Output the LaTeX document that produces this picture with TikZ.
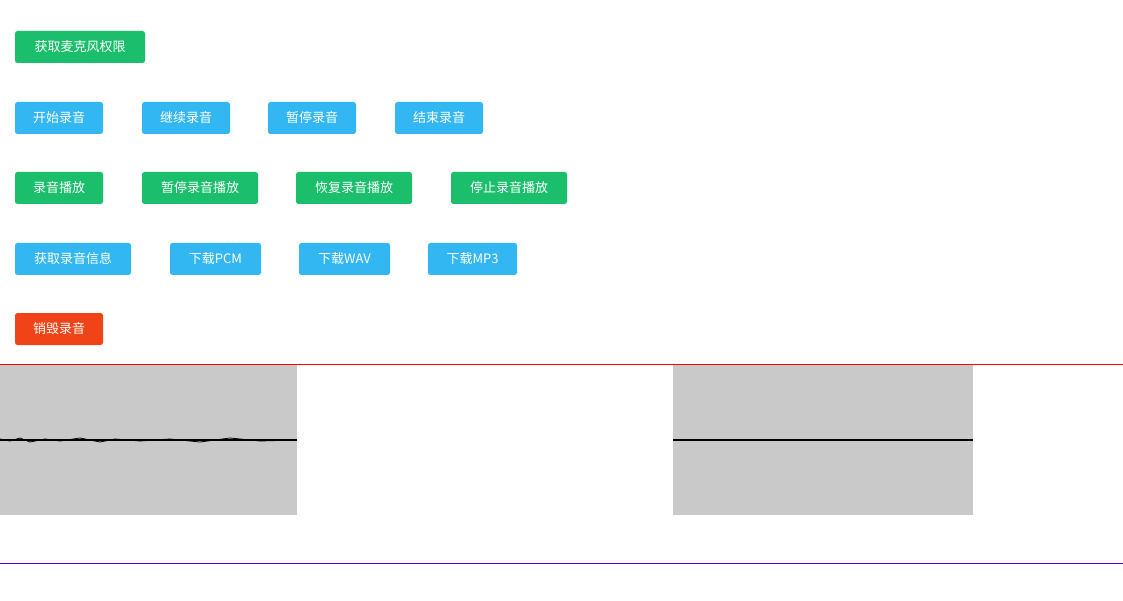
\documentclass[tikz,border=0pt]{standalone}
\usepackage{fontspec}
\setmainfont{Noto Sans CJK SC}
\begin{document}
\begin{tikzpicture}[x=1pt,y=-1pt,
 btn/.style={rounded corners=2.5pt,inner sep=0pt,text=white,font=\fontsize{13}{13}\selectfont},
 gbox/.style={fill=gray!42,draw=none}]
\definecolor{bg}{RGB}{27,191,107}
\definecolor{bb}{RGB}{51,183,243}
\definecolor{br}{RGB}{240,68,24}
\useasboundingbox (0,0) rectangle (1123,601);
\newcommand{\btnx}[6]{\fill[#6,rounded corners=2.5pt] (#1,#2) rectangle (#3,#4);
 \node[btn] (#5) at ({(#1+#3)/2},{(#2+#4)/2}) {\strut};}
\def\B#1#2#3#4#5#6{\fill[#5,rounded corners=2.5pt] (#1,#2) rectangle (#3,#2+32) node[midway,text=white,font=\fontsize{13}{13}\selectfont] (#4) {#6};}
\B{15}{31}{145}{mic}{bg}{获取麦克风权限}
\B{15}{102}{103}{r1}{bb}{开始录音}
\B{142}{102}{230}{r2}{bb}{继续录音}
\B{268}{102}{356}{r3}{bb}{暂停录音}
\B{395}{102}{483}{r4}{bb}{结束录音}
\B{15}{172}{103}{p1}{bg}{录音播放}
\B{142}{172}{258}{p2}{bg}{暂停录音播放}
\B{296}{172}{412}{p3}{bg}{恢复录音播放}
\B{451}{172}{567}{p4}{bg}{停止录音播放}
\B{15}{243}{131}{d1}{bb}{获取录音信息}
\B{170}{243}{261}{d2}{bb}{下载PCM}
\B{299}{243}{390}{d3}{bb}{下载WAV}
\B{428}{243}{517}{d4}{bb}{下载MP3}
\B{15}{313}{103}{x1}{br}{销毁录音}
\draw[red] (0,364.5) -- (1123,364.5);
\fill[gray!42] (0,365) rectangle (297,515);
\fill[gray!42] (673,365) rectangle (973,515);
\draw[black,line width=1.5pt] (0,440) -- (297,440);
\draw[black,line width=0.8pt] (0,439) -- (10,441) -- (20,438) -- (30,442) -- (45,439) -- (60,441) -- (80,438) -- (100,442) -- (115,439) -- (140,441) -- (170,439) -- (200,442) -- (230,438) -- (260,441) -- (297,440);
\draw[black,line width=1.5pt] (673,440) -- (973,440);
\draw[blue!70!red] (0,563.5) -- (1123,563.5);
\end{tikzpicture}
\end{document}
